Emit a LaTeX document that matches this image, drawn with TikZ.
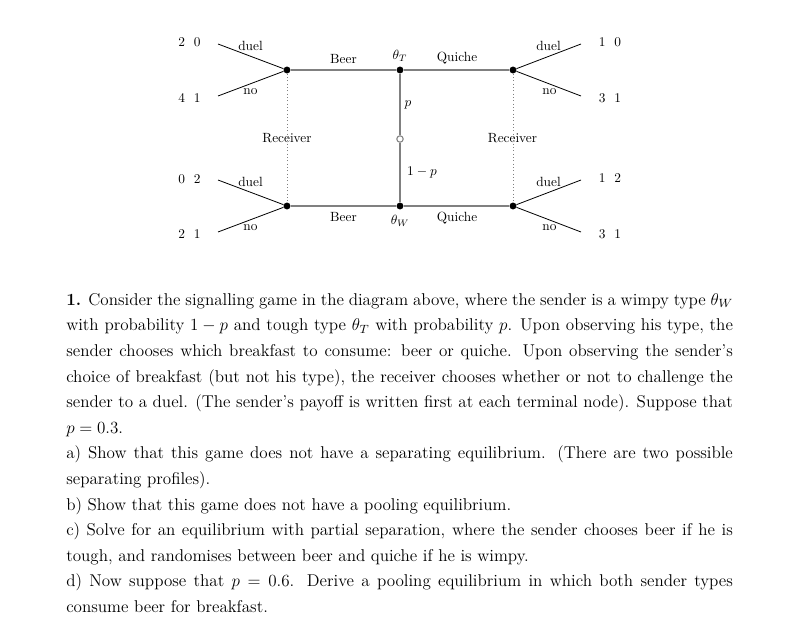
\RequirePackage{fix-cm}
\documentclass[tikz,border=0pt]{standalone}
\usepackage{amsmath,amssymb}
\usepackage{tikz}
\usetikzlibrary{positioning}

\begin{document}
\begin{tikzpicture}[
  x=0.75pt, y=-0.75pt,
  dnode/.style={circle, fill=black, inner sep=0pt, minimum size=5.2pt},
  cnode/.style={circle, draw=black!50, fill=white, line width=0.8pt,
               inner sep=0pt, minimum size=4.8pt},
  gline/.style={draw=black!50, line width=1.2pt},
  info/.style={draw=black!50, dotted, line width=0.5pt},
  branch/.style={draw=black, line width=0.6pt},
  lbl/.style={inner sep=0pt, font=\fontsize{10}{12}\selectfont},
  para/.style={inner sep=0pt, anchor=north west, text width=500pt,
               align=justify, font=\fontsize{12.8}{19.2}\selectfont}
]
  \useasboundingbox (0,0) rectangle (797,628);

  % chance move and the two sender types
  \node[cnode] (nat) at (400,139) {};
  \node[dnode] (tT) at (400,70) {};
  \node[dnode] (tW) at (400,206) {};
  % receiver after beer / quiche
  \node[dnode] (bT) at (287,70) {};
  \node[dnode] (bW) at (287,206) {};
  \node[dnode] (qT) at (513,70) {};
  \node[dnode] (qW) at (513,206) {};

  % terminal points
  \coordinate (bTd) at (218,44);
  \coordinate (bTn) at (218,96);
  \coordinate (bWd) at (218,180);
  \coordinate (bWn) at (218,232);
  \coordinate (qTd) at (581,44);
  \coordinate (qTn) at (581,96);
  \coordinate (qWd) at (581,180);
  \coordinate (qWn) at (581,232);

  \foreach \a/\b in {tT/nat,nat/tW,bT/tT,tT/qT,bW/tW,tW/qW}
    \draw[gline] (\a) -- (\b);
  \foreach \a/\b in {bT/bW,qT/qW}
    \draw[info] (\a) -- (\b);
  \foreach \a/\b in {bT/bTd,bT/bTn,bW/bWd,bW/bWn,qT/qTd,qT/qTn,qW/qWd,qW/qWn}
    \draw[branch] (\a) -- (\b);

  % payoffs
  \node[lbl] (pbTd) at (189.5,42.5) {2\ \ 0};
  \node[lbl] (pbTn) at (189.5,98) {4\ \ 1};
  \node[lbl] (pbWd) at (189.5,179.5) {0\ \ 2};
  \node[lbl] (pbWn) at (189.5,234.5) {2\ \ 1};
  \node[lbl] (pqTd) at (610,42.5) {1\ \ 0};
  \node[lbl] (pqTn) at (610,98) {3\ \ 1};
  \node[lbl] (pqWd) at (610,178) {1\ \ 2};
  \node[lbl] (pqWn) at (610,234.5) {3\ \ 1};

  % action labels
  \node[lbl] (lbTd) at (250.5,46) {duel};
  \node[lbl] (lbTn) at (250.5,92) {no};
  \node[lbl] (lbWd) at (250.5,182) {duel};
  \node[lbl] (lbWn) at (250.5,228) {no};
  \node[lbl] (lqTd) at (548.5,46) {duel};
  \node[lbl] (lqTn) at (549.5,92) {no};
  \node[lbl] (lqWd) at (548.5,182) {duel};
  \node[lbl] (lqWn) at (549.5,228) {no};
  \node[lbl] (lbT) at (343.5,59) {Beer};
  \node[lbl] (lbW) at (343.5,217.5) {Beer};
  \node[lbl] (lqT) at (457,58) {Quiche};
  \node[lbl] (lqW) at (457,218) {Quiche};
  \node[lbl] (ltT) at (400,56) {$\theta_T$};
  \node[lbl] (ltW) at (400,221) {$\theta_W$};
  \node[lbl] (lp) at (408,105) {$p$};
  \node[lbl] (lq) at (422,172) {$1-p$};
  \node[lbl] (rcvL) at (287,138) {Receiver};
  \node[lbl] (rcvR) at (512.5,138) {Receiver};

  % question text
  \node[para] (qtext) at (66,293) {\parindent=0pt
    \textbf{1.} Consider the signalling game in the diagram above, where the
    sender is a wimpy type $\theta_W$\linebreak with probability $1-p$ and tough type
    $\theta_T$ with probability $p$. Upon observing his type, the\linebreak sender
    chooses which breakfast to consume: beer or quiche. Upon observing the
    sender's\linebreak choice of breakfast (but not his type), the receiver chooses
    whether or not to challenge the\linebreak sender to a duel. (The sender's payoff is
    written first at each terminal node). Suppose that\linebreak $p=0.3$.\par
    a) Show that this game does not have a separating equilibrium. (There are
    two possible\linebreak separating profiles).\par
    b) Show that this game does not have a pooling equilibrium.\par
    c) Solve for an equilibrium with partial separation, where the sender
    chooses beer if he is\linebreak tough, and randomises between beer and quiche if he
    is wimpy.\par
    d) Now suppose that $p=0.6$. Derive a pooling equilibrium in which both
    sender types\linebreak consume beer for breakfast.};
\end{tikzpicture}
\end{document}
